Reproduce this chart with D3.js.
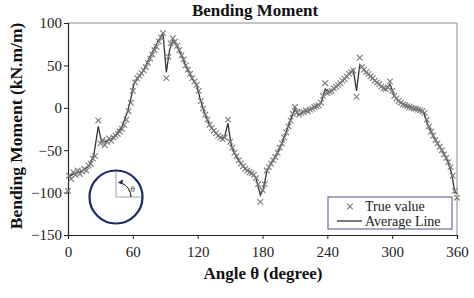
<!DOCTYPE html>
<html><head><meta charset="utf-8">
<script src="https://cdn.jsdelivr.net/npm/d3@7"></script>
<style>body{margin:0;background:#fff}svg{display:block}</style>
</head><body>
<svg id="c" width="474" height="298"></svg>
<script>
const title = "Bending Moment";
const xLabel = "Angle \u03B8 (degree)";
const yLabel = "Bending Moment (kN.m/m)";
const xTicks = [0, 60, 120, 180, 240, 300, 360];
const yTicks = [-150, -100, -50, 0, 50, 100];
const legendLabels = ["True value", "Average Line"];

// Average line
const lineAngle = [0,5,10,15,20,24,28,31,35,40,45,50,55,58,61,64,69,74,79,84,88,91,94,97,101,105,110,115,119,122,126,131,136,142,145,148,151,155,160,165,170,174,178,181,184,188,193,198,202,206,210,213,218,224,230,234,238,242,246,250,255,260,264,267,270,275,280,285,290,294,298,302,306,312,318,324,329,333,338,343,347,351,355,358,360];
const lineValue = [-82,-78,-76,-73,-68,-55,-22,-40,-40,-37,-31,-22,-5,10,28,34,42,55,68,80,87,42,68,80,72,62,46,34,27,12,-5,-20,-29,-36,-34,-18,-44,-56,-66,-73,-77,-83,-103,-95,-75,-65,-55,-42,-28,-14,-1,-8,-5,-2,2,5,22,18,22,27,33,40,45,20,51,43,37,31,25,21,28,14,8,3,0,-2,-5,-20,-33,-44,-52,-62,-77,-100,-101];

// True values (markers)
const trueAngle = [
  0,1,3,5,7,9,11,13,15,17,
  19,21,23,25,28,30,32,34,36,38,
  40,42,44,46,48,50,52,54,56,58,
  60,62,64,66,68,70,72,74,76,78,
  80,82,84,86,88,91,93,95,97,99,
  101,103,105,107,109,111,113,115,117,119,
  121,123,125,127,129,131,133,135,137,139,
  141,143,145,148,150,152,154,156,158,160,
  162,164,166,168,170,172,174,176,178,180,
  182,184,186,188,190,192,194,196,198,200,
  202,204,206,208,210,212,214,216,218,220,
  222,224,226,228,230,232,234,236,238,240,
  242,244,246,248,250,252,254,256,258,260,
  262,264,267,270,272,274,276,278,280,282,
  284,286,288,290,292,294,296,298,300,302,
  304,306,308,310,312,314,316,318,320,322,
  324,326,328,330,332,334,336,338,340,342,
  344,346,348,350,352,354,356,358,360];
const trueValue = [
  -98,-80,-84,-76,-79,-74,-78,-75,-72,-74,
  -68,-66,-60,-57,-15,-42,-38,-44,-40,-36,
  -39,-35,-33,-31,-28,-25,-20,-14,-4,6,
  20,30,35,38,41,44,48,53,58,63,
  68,72,78,83,88,35,60,76,82,78,
  73,68,62,57,50,45,40,35,31,27,
  20,8,-1,-8,-14,-20,-24,-27,-30,-33,
  -35,-37,-35,-14,-40,-47,-53,-57,-62,-66,
  -69,-72,-74,-76,-77,-79,-83,-90,-111,-97,
  -90,-74,-70,-66,-62,-58,-53,-47,-42,-35,
  -29,-22,-15,-7,1,-5,-8,-6,-5,-3,
  -4,-2,-1,1,2,3,6,14,29,17,
  19,20,23,25,27,29,32,34,37,40,
  42,44,13,59,48,45,42,40,37,35,
  32,30,28,25,23,22,24,31,20,14,
  11,8,6,4,3,2,1,0,-1,-1,
  -2,-3,-4,-6,-14,-22,-28,-33,-38,-42,
  -46,-50,-55,-59,-64,-70,-80,-98,-106];

const m = {left: 68, right: 457, top: 23, bottom: 235};
const svg = d3.select("#c");
const x = d3.scaleLinear().domain([0, 360]).range([m.left, m.right]);
const y = d3.scaleLinear().domain([-150, 100]).range([m.bottom, m.top]);
const serif = "'Liberation Serif','Times New Roman',serif";

// frame (top/right)
svg.append("path").attr("d", `M${m.left},${m.top}H${m.right}V${m.bottom}`)
  .attr("fill", "none").attr("stroke", "#888").attr("stroke-width", 1);

const xAxis = svg.append("g").attr("transform", `translate(0,${m.bottom})`)
  .call(d3.axisBottom(x).tickValues(xTicks).tickSize(4).tickPadding(7).tickFormat(d3.format("d")));
const yAxis = svg.append("g").attr("transform", `translate(${m.left},0)`)
  .call(d3.axisLeft(y).tickValues(yTicks).tickSize(4).tickPadding(2).tickFormat(d3.format("d")));
[xAxis, yAxis].forEach(g => {
  g.select(".domain").attr("stroke", "#222").attr("stroke-width", 1.2);
  g.selectAll(".tick line").attr("stroke", "#222");
  g.selectAll("text").attr("font-family", serif).attr("font-size", 15).attr("fill", "#222");
});

// line
const pts = lineAngle.map((a, i) => [a, lineValue[i]]);
svg.append("path").datum(pts)
  .attr("d", d3.line().x(d => x(d[0])).y(d => y(d[1])))
  .attr("fill", "none").attr("stroke", "#333").attr("stroke-width", 1.3);

// markers
const mk = 2.8;
const crossPath = (cx, cy) => `M${cx-mk},${cy-mk}L${cx+mk},${cy+mk}M${cx-mk},${cy+mk}L${cx+mk},${cy-mk}`;
svg.append("g").selectAll("path").data(trueAngle.map((a, i) => [a, trueValue[i]])).join("path")
  .attr("d", d => crossPath(x(d[0]), y(d[1])))
  .attr("stroke", "#7a7a7a").attr("stroke-width", 1.1).attr("fill", "none");

// title & labels
svg.append("text").attr("x", 255).attr("y", 16).attr("text-anchor", "middle")
  .attr("font-family", serif).attr("font-weight", "bold").attr("font-size", 17).attr("fill", "#111").text(title);
svg.append("text").attr("x", 263).attr("y", 279).attr("text-anchor", "middle")
  .attr("font-family", serif).attr("font-weight", "bold").attr("font-size", 17).attr("fill", "#111").text(xLabel);
svg.append("text").attr("transform", `translate(22,126) rotate(-90)`)
  .attr("text-anchor", "middle")
  .attr("font-family", serif).attr("font-weight", "bold").attr("font-size", 17.5).attr("fill", "#111").text(yLabel);

// legend
const lg = svg.append("g");
lg.append("rect").attr("x", 328).attr("y", 197).attr("width", 124).attr("height", 32)
  .attr("fill", "#fff").attr("stroke", "#6c7096").attr("stroke-width", 1.2);
lg.append("path").attr("d", crossPath(350, 206.5)).attr("stroke", "#7a7a7a").attr("stroke-width", 1.1);
lg.append("line").attr("x1", 337).attr("x2", 362).attr("y1", 221).attr("y2", 221).attr("stroke", "#333").attr("stroke-width", 1.3);
lg.selectAll("text.l").data(legendLabels).join("text")
  .attr("x", 365).attr("y", (d, i) => 211 + i * 14.5)
  .attr("font-family", serif).attr("font-size", 14).attr("fill", "#222").text(d => d);

// inset circle diagram
const cx = 116, cy = 197, r = 26.5;
const ins = svg.append("g");
ins.append("line").attr("x1", cx).attr("y1", cy).attr("x2", cx).attr("y2", cy - r).attr("stroke", "#999").attr("stroke-width", 0.9);
ins.append("line").attr("x1", cx).attr("y1", cy).attr("x2", cx + r).attr("y2", cy).attr("stroke", "#999").attr("stroke-width", 0.9);
ins.append("circle").attr("cx", cx).attr("cy", cy).attr("r", r).attr("fill", "none").attr("stroke", "#1d2a6a").attr("stroke-width", 2.2);
const ar = d3.arc().innerRadius(15).outerRadius(15).startAngle(Math.PI / 2).endAngle(0.35);
ins.append("path").attr("d", ar()).attr("transform", `translate(${cx},${cy})`).attr("fill", "none").attr("stroke", "#333").attr("stroke-width", 0.9);
ins.append("path").attr("d", `M${cx+2.5},${cy-14.5}l4,-2.5l-0.5,4z`).attr("fill", "#1d2a6a").attr("stroke", "#1d2a6a").attr("stroke-width", 0.8);
ins.append("text").attr("x", 130.5).attr("y", 192).attr("font-family", serif).attr("font-size", 9).attr("fill", "#333").text("\u03B8");
</script>
</body></html>
